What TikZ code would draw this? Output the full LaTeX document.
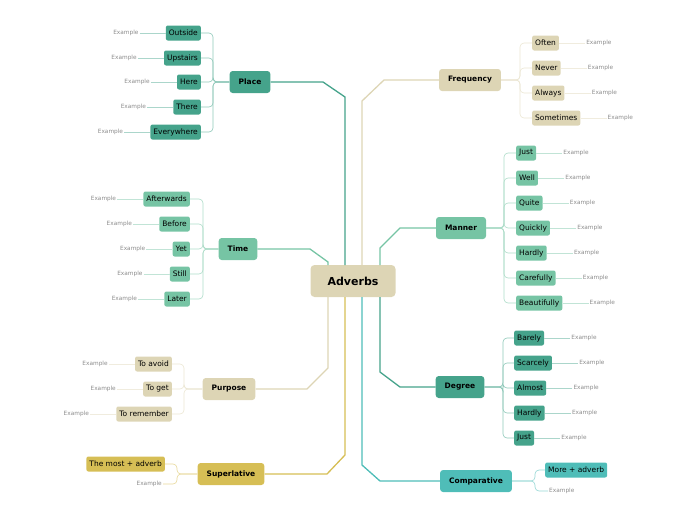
\documentclass[tikz,border=0pt]{standalone}
\usepackage{fontspec}
\setmainfont{DejaVu Sans}
\begin{document}
\begin{tikzpicture}[x=1pt,y=-1pt]
\definecolor{cteal}{HTML}{45A38B}
\definecolor{cgreen}{HTML}{76C4A4}
\definecolor{cbeige}{HTML}{DDD5B5}
\definecolor{ccyan}{HTML}{4FBDB8}
\definecolor{cyel}{HTML}{D6BE55}
\tikzset{
 kid/.style={rounded corners=2pt,inner xsep=3pt,inner ysep=0pt,minimum height=15pt,font=\fontsize{7.5}{8}\selectfont,text=black},
 branch/.style={rounded corners=3pt,inner xsep=9pt,inner ysep=0pt,minimum height=22pt,font=\fontsize{7.5}{8}\selectfont\bfseries,text=black},
 ex/.style={font=\fontsize{5.8}{6}\selectfont,text=black!45,inner sep=1pt},
 trunk/.style={line width=1.3pt,line join=bevel},
 br/.style={line width=0.6pt,rounded corners=4pt},
}
\useasboundingbox (0,0) rectangle (696,520);
\newcommand\lkid[7]{\node[kid,fill=#5,anchor=east] (#1) at (#3,#4) {#2};
 \node[ex,anchor=east] (#1x) at ([xshift=-26pt]#1.west) {Example};
 \draw[#5!45,line width=0.7pt] (#1x) -- (#1);
 \draw[br,#5!60] (#1.east) -- (#6,#4) |- (#7.west);}
\newcommand\rkid[7]{\node[kid,fill=#5,anchor=west] (#1) at (#3,#4) {#2};
 \node[ex,anchor=west] (#1x) at ([xshift=26pt]#1.east) {Example};
 \draw[#5!45,line width=0.7pt] (#1x) -- (#1);
 \draw[br,#5!60] (#1.west) -- (#6,#4) |- (#7.east);}

\node[rounded corners=4pt,fill=cbeige,minimum width=85pt,minimum height=32pt,font=\fontsize{11}{12}\selectfont\bfseries] (root) at (353,281) {Adverbs};

\node[branch,fill=cteal] (place) at (250,82) {Place};
\node[branch,fill=cbeige] (freq) at (470,80) {Frequency};
\node[branch,fill=cgreen] (time) at (238,249) {Time};
\node[branch,fill=cgreen] (manner) at (461,228) {Manner};
\node[branch,fill=cteal] (degree) at (460,387) {Degree};
\node[branch,fill=cbeige] (purpose) at (229,389) {Purpose};
\node[branch,fill=cyel] (sup) at (231,474) {Superlative};
\node[branch,fill=ccyan] (comp) at (476,481) {Comparative};

\draw[trunk,cteal] (place.east) -- (323,82) -- (345,97) -- (345,265);
\draw[trunk,cbeige] (freq.west) -- (384,80) -- (362,101) -- (362,265);
\draw[trunk,cgreen] (time.east) -- (310,249) -- (328,262) -- (328,265);
\draw[trunk,cgreen] (manner.west) -- (400,228) -- (380,248) -- (380,265);
\draw[trunk,cteal] (degree.west) -- (400,387) -- (380,372) -- (380,297);
\draw[trunk,cbeige] (purpose.east) -- (307,389) -- (328,368) -- (328,297);
\draw[trunk,cyel] (sup.east) -- (327,474) -- (345,455) -- (345,297);
\draw[trunk,ccyan] (comp.west) -- (380,481) -- (362,465) -- (362,297);

\lkid{p1}{Outside}{201}{33}{cteal}{213}{place}
\lkid{p2}{Upstairs}{201}{58}{cteal}{213}{place}
\lkid{p3}{Here}{201}{82}{cteal}{213}{place}
\lkid{p4}{There}{201}{107}{cteal}{213}{place}
\lkid{p5}{Everywhere}{201}{132}{cteal}{213}{place}

\rkid{f1}{Often}{532}{43}{cbeige}{520}{freq}
\rkid{f2}{Never}{532}{68}{cbeige}{520}{freq}
\rkid{f3}{Always}{532}{93}{cbeige}{520}{freq}
\rkid{f4}{Sometimes}{532}{118}{cbeige}{520}{freq}

\lkid{t1}{Afterwards}{190}{199}{cgreen}{203}{time}
\lkid{t2}{Before}{190}{224}{cgreen}{203}{time}
\lkid{t3}{Yet}{190}{249}{cgreen}{203}{time}
\lkid{t4}{Still}{190}{274}{cgreen}{203}{time}
\lkid{t5}{Later}{190}{299}{cgreen}{203}{time}

\rkid{m1}{Just}{516}{153}{cgreen}{504}{manner}
\rkid{m2}{Well}{516}{178}{cgreen}{504}{manner}
\rkid{m3}{Quite}{516}{203}{cgreen}{504}{manner}
\rkid{m4}{Quickly}{516}{228}{cgreen}{504}{manner}
\rkid{m5}{Hardly}{516}{253}{cgreen}{504}{manner}
\rkid{m6}{Carefully}{516}{278}{cgreen}{504}{manner}
\rkid{m7}{Beautifully}{516}{303}{cgreen}{504}{manner}

\rkid{d1}{Barely}{514}{338}{cteal}{503}{degree}
\rkid{d2}{Scarcely}{514}{363}{cteal}{503}{degree}
\rkid{d3}{Almost}{514}{388}{cteal}{503}{degree}
\rkid{d4}{Hardly}{514}{413}{cteal}{503}{degree}
\rkid{d5}{Just}{514}{438}{cteal}{503}{degree}

\lkid{u1}{To avoid}{172}{364}{cbeige}{184}{purpose}
\lkid{u2}{To get}{172}{389}{cbeige}{184}{purpose}
\lkid{u3}{To remember}{172}{414}{cbeige}{184}{purpose}

\node[kid,fill=ccyan,anchor=west] (c1) at (545,470) {More + adverb};
\node[ex,anchor=west] (c2) at (548,491) {Example};
\draw[br,ccyan!60] (c1.west) -- (535,470) |- (comp.east);
\draw[br,ccyan!60] (c2.west) -- (535,491) |- (comp.east);

\node[kid,fill=cyel,anchor=east] (s1) at (165,464) {The most + adverb};
\node[ex,anchor=east] (s2) at (163,484) {Example};
\draw[br,cyel!60] (s1.east) -- (177,464) |- (sup.west);
\draw[br,cyel!60] (s2.east) -- (177,484) |- (sup.west);
\end{tikzpicture}
\end{document}
